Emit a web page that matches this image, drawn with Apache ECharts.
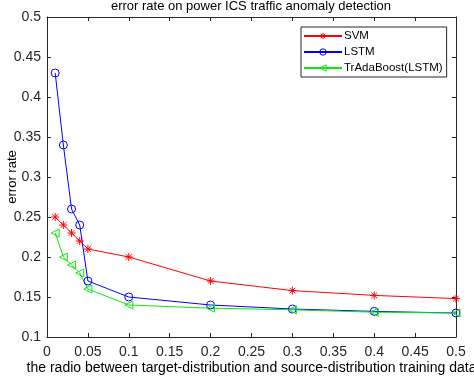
<!DOCTYPE html>
<html>
<head>
<meta charset="utf-8">
<script src="https://cdn.jsdelivr.net/npm/echarts@6/dist/echarts.min.js"></script>
<style>
  html, body { margin: 0; padding: 0; background: #fff; }
  #chart { width: 474px; height: 377px; }
</style>
</head>
<body>
<div id="chart"></div>
<script>
// ratio between target and source training data
const ratios = [0.01, 0.02, 0.03, 0.04, 0.05, 0.1, 0.2, 0.3, 0.4, 0.5];
const svmErr = [0.25, 0.24, 0.23, 0.22, 0.21, 0.20, 0.17, 0.158, 0.152, 0.148];
const lstmErr = [0.43, 0.34, 0.26, 0.24, 0.17, 0.15, 0.14, 0.135, 0.132, 0.13];
const trAdaErr = [0.23, 0.20, 0.19, 0.18, 0.16, 0.14, 0.136, 0.134, 0.131, 0.13];
const seriesNames = ['SVM', 'LSTM', 'TrAdaBoost(LSTM)'];

const axisColor = '#262626';
const font = 'Liberation Sans, Arial, sans-serif';

const starSymbol = 'path://M5,0L5,10M0,5L10,5M1.5,1.5L8.5,8.5M1.5,8.5L8.5,1.5';
const leftTriangle = 'path://M0,5L10,0L10,10Z';

function pairs(xs, ys) {
    return xs.map((x, i) => [x, ys[i]]);
}

function makeSeries(name, data, color, symbol) {
    return {
        name: name,
        type: 'line',
        data: pairs(ratios, data),
        symbol: symbol,
        symbolSize: 8,
        showAllSymbol: true,
        lineStyle: { color: color, width: 1 },
        itemStyle: { color: 'transparent', borderColor: color, borderWidth: 1 },
        emphasis: { disabled: true },
        animation: false
    };
}

const chart = echarts.init(document.getElementById('chart'));

const commonX = {
    type: 'value',
    min: 0,
    max: 0.5,
    interval: 0.05,
    splitLine: { show: false },
    axisLine: { show: true, onZero: false, lineStyle: { color: axisColor, width: 1 } },
    axisTick: { show: true, inside: true, length: 4, lineStyle: { color: axisColor } }
};
const commonY = {
    type: 'value',
    min: 0.1,
    max: 0.5,
    interval: 0.05,
    splitLine: { show: false },
    axisLine: { show: true, onZero: false, lineStyle: { color: axisColor, width: 1 } },
    axisTick: { show: true, inside: true, length: 4, lineStyle: { color: axisColor } }
};

chart.setOption({
    animation: false,
    textStyle: { fontFamily: font },
    title: {
        text: 'error rate on power ICS traffic anomaly detection',
        left: 251,
        textAlign: 'center',
        top: 0,
        padding: 0,
        textStyle: { fontSize: 13, fontWeight: 'normal', color: '#000', fontFamily: font }
    },
    grid: { left: 47, right: 18, top: 17, bottom: 40, outerBoundsMode: 'none' },
    legend: {
        data: seriesNames,
        orient: 'vertical',
        left: 301,
        top: 27,
        itemWidth: 38,
        itemHeight: 8,
        itemGap: 4,
        padding: [3, 4, 3, 2],
        borderColor: axisColor,
        borderWidth: 1,
        backgroundColor: '#fff',
        itemStyle: { color: 'transparent', borderWidth: 1 },
        textStyle: { fontSize: 11.5, color: '#000', fontFamily: font, padding: [0, 0, 0, -3] }
    },
    xAxis: [
        Object.assign({}, commonX, {
            position: 'bottom',
            name: 'the radio between target-distribution and source-distribution training data',
            nameLocation: 'middle',
            nameGap: 24,
            nameMoveOverlap: false,
            nameTextStyle: { fontSize: 14, color: '#000', fontFamily: font },
            axisLabel: { fontSize: 14, color: axisColor, margin: 8, fontFamily: font }
        }),
        Object.assign({}, commonX, { position: 'top', axisLabel: { show: false } })
    ],
    yAxis: [
        Object.assign({}, commonY, {
            position: 'left',
            name: 'error rate',
            nameLocation: 'middle',
            nameGap: 28,
            nameMoveOverlap: false,
            nameTextStyle: { fontSize: 13, color: '#000', fontFamily: font },
            axisLabel: { fontSize: 14, color: axisColor, margin: 6, fontFamily: font }
        }),
        Object.assign({}, commonY, { position: 'right', axisLabel: { show: false } })
    ],
    series: [
        makeSeries(seriesNames[0], svmErr, '#ff0000', starSymbol),
        makeSeries(seriesNames[1], lstmErr, '#0000ff', 'circle'),
        makeSeries(seriesNames[2], trAdaErr, '#11e611', leftTriangle)
    ]
});

window.addEventListener('resize', function () {
    chart.resize();
});
</script>
</body>
</html>
